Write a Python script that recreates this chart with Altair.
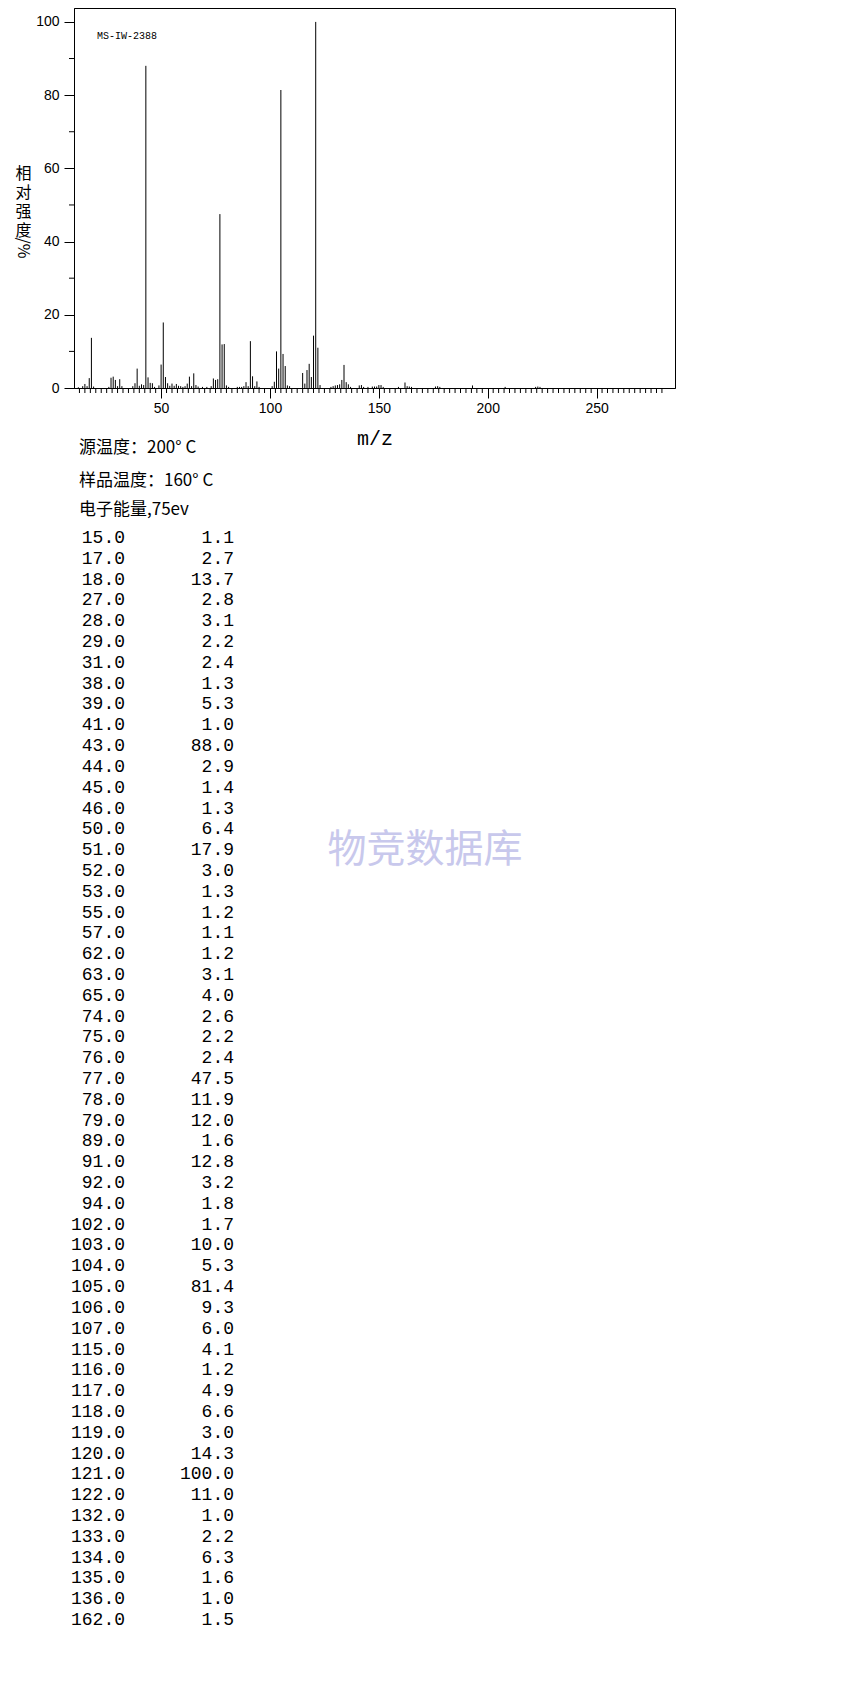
import altair as alt
import pandas as pd
import numpy as np

# Listed peaks (m/z, relative intensity %)
mz_listed = [15, 17, 18, 27, 28, 29, 31, 38, 39, 41, 43, 44, 45, 46, 50, 51, 52, 53, 55, 57,
             62, 63, 65, 74, 75, 76, 77, 78, 79, 89, 91, 92, 94, 102, 103, 104, 105, 106, 107, 115,
             116, 117, 118, 119, 120, 121, 122, 132, 133, 134, 135, 136, 162]
int_listed = [1.1, 2.7, 13.7, 2.8, 3.1, 2.2, 2.4, 1.3, 5.3, 1.0, 88.0, 2.9, 1.4, 1.3, 6.4, 17.9, 3.0, 1.3, 1.2, 1.1,
              1.2, 3.1, 4.0, 2.6, 2.2, 2.4, 47.5, 11.9, 12.0, 1.6, 12.8, 3.2, 1.8, 1.7, 10.0, 5.3, 81.4, 9.3, 6.0, 4.1,
              1.2, 4.9, 6.6, 3.0, 14.3, 100.0, 11.0, 1.0, 2.2, 6.3, 1.6, 1.0, 1.5]

# Small unlisted peaks (estimates)
mz_minor = [12, 14, 16, 19, 26, 30, 32, 37, 40, 42, 47, 49, 54, 56, 58, 59, 60, 61, 64, 66,
            67, 69, 71, 73, 80, 81, 85, 86, 87, 88, 90, 93, 95, 101, 108, 109, 123, 128, 129, 130,
            131, 137, 141, 142, 143, 145, 147, 148, 149, 150, 151, 152, 159, 163, 164, 165, 176, 177, 178, 193,
            208, 222, 223, 224]
int_minor = [0.2, 0.5, 0.5, 0.4, 0.3, 0.5, 0.5, 0.5, 0.6, 0.8, 0.3, 0.7, 0.6, 0.6, 0.6, 0.5, 0.3, 0.5, 0.5, 0.8,
             0.4, 0.3, 0.3, 0.5, 0.7, 0.3, 0.3, 0.3, 0.3, 0.5, 0.5, 0.5, 0.3, 0.5, 0.7, 0.5, 0.8, 0.3, 0.5, 0.7,
             0.8, 0.3, 0.7, 0.8, 0.3, 0.3, 0.4, 0.4, 0.4, 0.8, 0.8, 0.3, 0.3, 0.5, 0.4, 0.3, 0.4, 0.5, 0.3, 0.7,
             0.3, 0.3, 0.4, 0.3]

x_major = [50, 100, 150, 200, 250]
y_major = [0, 20, 40, 60, 80, 100]
y_minor = [10, 30, 50, 70, 90]
x_minor = [v for v in np.arange(12.5, 281, 2.5) if v % 50 != 0]

header_lines = ["源温度：200° C", "样品温度：160° C", "电子能量,75ev"]
sample_id = "MS-IW-2388"
watermark = "物竞数据库"

W, H = 601, 380
xs = alt.Scale(domain=[10, 286], nice=False, zero=False)
ys = alt.Scale(domain=[0, 103.8], nice=False, zero=False)

x_axis = alt.Axis(
    values=x_major, tickSize=10, labelPadding=3, title="m/z",
    titleFont="Liberation Mono", titleFontSize=20, titleFontWeight="normal",
    titleY=50, titleBaseline="middle", labelFont="Liberation Sans", labelFontSize=14,
    labelColor="black", tickColor="black", domainColor="black", titleColor="black",
    grid=False, labelFlush=False)
y_axis = alt.Axis(
    values=y_major, tickSize=10, labelPadding=5,
    title=["相", "对", "强", "度"], titleAngle=0, titleX=-51, titleY=157,
    titleAlign="center", titleBaseline="top", titleFont="Noto Sans CJK SC",
    titleFontSize=16, titleFontWeight="normal", titleLineHeight=19, titleColor="black",
    labelFont="Liberation Sans", labelFontSize=14, labelColor="black",
    tickColor="black", domainColor="black", grid=False)

peaks_df = pd.DataFrame({"mz": mz_listed + mz_minor, "inten": int_listed + int_minor})

peaks = alt.Chart(peaks_df).mark_rule(color="black", strokeWidth=1).encode(
    x=alt.X("mz:Q", scale=xs, axis=x_axis),
    y=alt.Y("inten:Q", scale=ys, axis=y_axis),
    y2=alt.datum(0),
)

ytick_df = pd.DataFrame({"v": y_minor})
yticks = alt.Chart(ytick_df).mark_rule(color="black", strokeWidth=1).encode(
    y=alt.Y("v:Q", scale=ys, axis=y_axis),
    x=alt.value(-5), x2=alt.value(0),
)

xtick_df = pd.DataFrame({"v": x_minor})
xticks = alt.Chart(xtick_df).mark_rule(color="black", strokeWidth=1).encode(
    x=alt.X("v:Q", scale=xs, axis=x_axis),
    y=alt.value(H), y2=alt.value(H + 5),
)

pct = alt.Chart(pd.DataFrame({"t": ["/%"]})).mark_text(
    font="Noto Sans CJK SC", fontSize=16, angle=90, color="black",
    align="center", baseline="middle").encode(
    x=alt.value(-51), y=alt.value(240), text="t:N")

sid = alt.Chart(pd.DataFrame({"t": [sample_id]})).mark_text(
    font="Liberation Mono", fontSize=10, color="black", align="left", baseline="middle").encode(
    x=alt.value(23), y=alt.value(28), text="t:N")

spectrum = alt.layer(peaks, yticks, xticks, pct, sid)

rows_df = pd.DataFrame({"row": list(range(len(mz_listed))), "mz": mz_listed, "inten": int_listed})
row_scale = alt.Scale(domain=[0, len(mz_listed) - 1], range=[530, 1612], nice=False, zero=False)
col1 = alt.Chart(rows_df).mark_text(
    font="Liberation Mono", fontSize=18, color="black", align="right", baseline="middle").encode(
    y=alt.Y("row:Q", scale=row_scale, axis=None),
    x=alt.value(51), text=alt.Text("mz:Q", format=".1f"))
col2 = alt.Chart(rows_df).mark_text(
    font="Liberation Mono", fontSize=18, color="black", align="right", baseline="middle").encode(
    y=alt.Y("row:Q", scale=row_scale, axis=None),
    x=alt.value(160), text=alt.Text("inten:Q", format=".1f"))

header_y = [440, 473, 502]
headers = [
    alt.Chart(pd.DataFrame({"t": [line]})).mark_text(
        font="Noto Sans CJK SC", fontSize=17, color="black", align="left", baseline="middle").encode(
        x=alt.value(5), y=alt.value(yy), text="t:N")
    for line, yy in zip(header_lines, header_y)
]

wm = alt.Chart(pd.DataFrame({"t": [watermark]})).mark_text(
    font="Noto Sans CJK SC", fontSize=39, color="#c8c8ec", align="center", baseline="middle").encode(
    x=alt.value(351), y=alt.value(842), text="t:N")

table = alt.layer(col1, col2, *headers, wm)

chart = alt.layer(spectrum, table).resolve_scale(y="independent").properties(
    width=W, height=H, padding={"left": 6, "top": 0, "right": 5, "bottom": 5}
).configure_view(stroke="black", strokeWidth=1).configure_axis(grid=False)

chart.save("out.html", embed_options={"renderer": "svg", "actions": False})
